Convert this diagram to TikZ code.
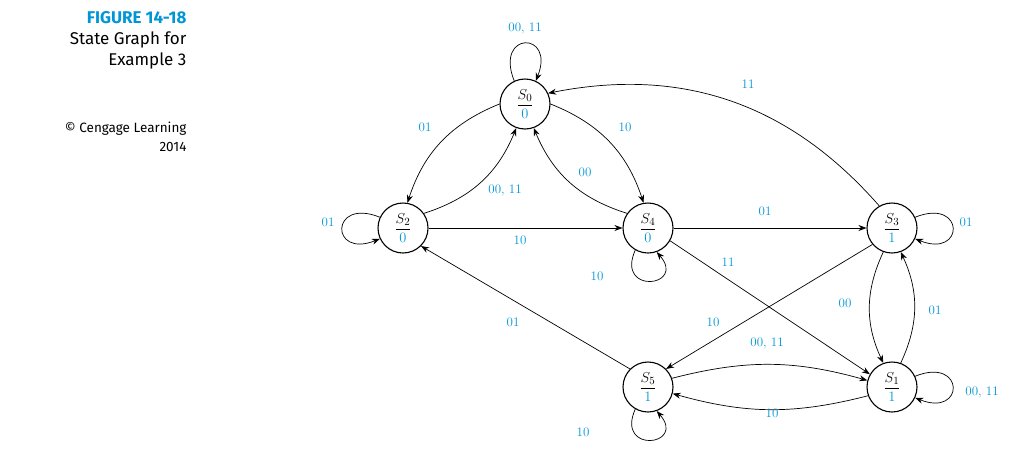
\documentclass[tikz,border=0pt]{standalone}
\usepackage{fontspec}
\newfontfamily\capfont{Fira Sans}
\usetikzlibrary{arrows.meta}
\definecolor{cblue}{RGB}{0,150,214}
\begin{document}
\begin{tikzpicture}[x=1pt,y=-1pt,
  st/.style={circle,draw,line width=1.1pt,minimum size=50pt,inner sep=0pt,font=\fontsize{15}{17}\selectfont},
  ed/.style={-{Stealth[length=8pt,width=6pt]},line width=0.7pt},
  lb/.style={text=cblue,font=\fontsize{13}{15}\selectfont}]
\useasboundingbox (0,0) rectangle (1024,453);
\node[anchor=north east,align=right,font=\capfont\fontsize{17}{21}\selectfont] (cap) at (190,8)
 {\textcolor{cblue}{\bfseries FIGURE 14-18}\\State Graph for\\Example 3};
\node[anchor=north east,align=right,font=\capfont\fontsize{13.5}{19}\selectfont] (copy) at (190,118)
 {© Cengage Learning\\2014};
\newcommand{\stl}[2]{$\displaystyle\frac{S_{#1}}{\textcolor{cblue}{#2}}$}
\node[st] (s0) at (525,104) {\stl{0}{0}};
\node[st] (s2) at (403,228) {\stl{2}{0}};
\node[st] (s4) at (648,228) {\stl{4}{0}};
\node[st] (s3) at (892,228) {\stl{3}{1}};
\node[st] (s5) at (648,387) {\stl{5}{1}};
\node[st] (s1) at (892,387) {\stl{1}{1}};
% self loops
\draw[ed] (s0.115) .. controls +(-20,-50) and +(20,-50) .. (s0.65);
\node[lb] (l0) at (525,28) {00, 11};
\draw[ed] (s2.155) .. controls +(-50,-20) and +(-50,20) .. (s2.205);
\node[lb] (l1) at (328,222) {01};
\draw[ed] (s3.25) .. controls +(50,-20) and +(50,20) .. (s3.-25);
\node[lb] (l2) at (966,222) {01};
\draw[ed] (s1.25) .. controls +(50,-20) and +(50,20) .. (s1.-25);
\node[lb] (l3) at (982,392) {00, 11};
\draw[ed] (s4.240) .. controls +(-20,45) and +(30,35) .. (s4.290);
\node[lb] (l4) at (597,276) {10};
\draw[ed] (s5.240) .. controls +(-20,45) and +(30,35) .. (s5.290);
\node[lb] (l5) at (583,432) {10};
% edges
\draw[ed] (s0.180) to[bend right=25] (s2.80);
\node[lb] (l6) at (425,127) {01};
\draw[ed] (s2.35) to[bend right=25] (s0.250);
\node[lb] (l7) at (505,190) {00, 11};
\draw[ed] (s0.0) to[bend left=25] (s4.100);
\node[lb] (l8) at (625,127) {10};
\draw[ed] (s4.145) to[bend left=25] (s0.290);
\node[lb] (l9) at (585,172) {00};
\draw[ed] (s2) -- (s4);
\node[lb] (l10) at (520,240) {10};
\draw[ed] (s4) -- (s3);
\node[lb] (l11) at (765,211) {01};
\draw[ed] (s4.-30) -- (s1.150);
\node[lb] (l12) at (728,262) {11};
\draw[ed] (s3.120) to[bend right=30] (s0.25);
\node[lb] (l13) at (748,84) {11};
\draw[ed] (s3.220) -- (s5.45);
\node[lb] (l14) at (713,322) {10};
\draw[ed] (s3.250) to[bend right=25] (s1.110);
\node[lb] (l15) at (845,303) {00};
\draw[ed] (s1.70) to[bend right=25] (s3.290);
\node[lb] (l16) at (935,310) {01};
\draw[ed] (s5.135) -- (s2.-45);
\node[lb] (l17) at (513,322) {01};
\draw[ed] (s5.20) to[bend left=15] (s1.165);
\node[lb] (l18) at (767,343) {00, 11};
\draw[ed] (s1.200) to[bend left=15] (s5.-15);
\node[lb] (l19) at (772,413) {10};
\end{tikzpicture}
\end{document}
